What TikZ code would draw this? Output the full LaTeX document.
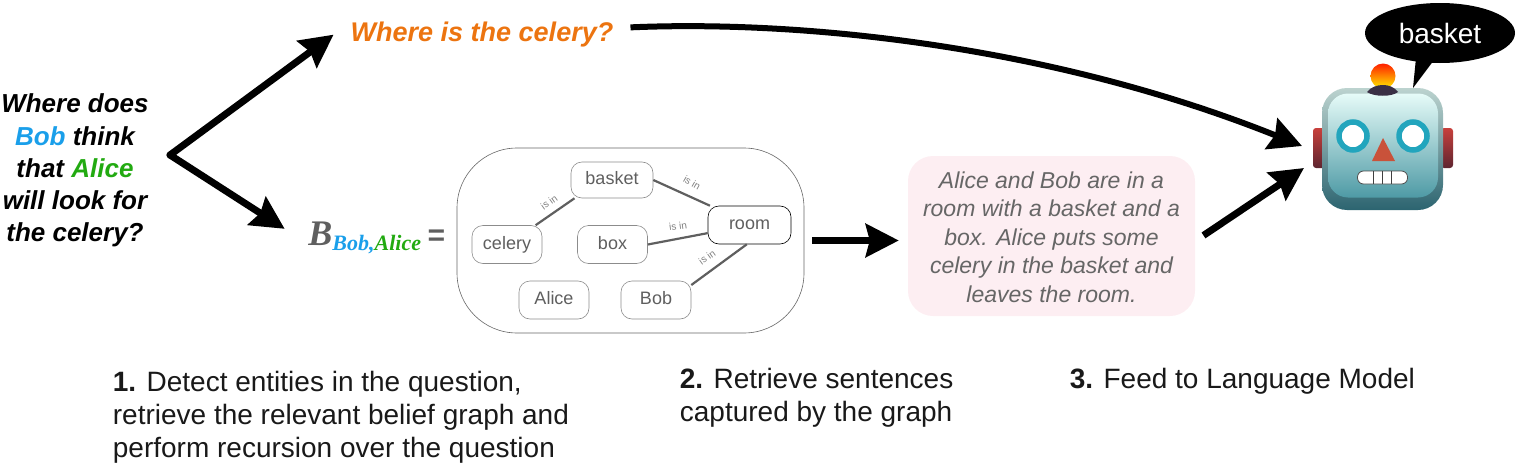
\documentclass[tikz,border=0pt]{standalone}
\usepackage{fontspec}
\setmainfont{Liberation Sans}
\newfontfamily\serifbi{Liberation Serif}
\usetikzlibrary{arrows.meta,shapes.geometric}
\definecolor{bobblue}{HTML}{1A9FEA}
\definecolor{alicegreen}{HTML}{22AA11}
\definecolor{qorange}{HTML}{EC7410}
\definecolor{textgrey}{HTML}{5F5F5F}
\definecolor{notepink}{HTML}{FDEEF2}
\definecolor{earred}{HTML}{C8403C}
\definecolor{eardark}{HTML}{5E2530}
\definecolor{rimlight}{HTML}{BCD3CF}
\definecolor{rimdark}{HTML}{2C6470}
\definecolor{facetop}{HTML}{E6FBF8}
\definecolor{facemid}{HTML}{C4EDEC}
\definecolor{facelow}{HTML}{4E9AA5}
\definecolor{eyering}{HTML}{22A5BD}
\definecolor{nosered}{HTML}{C9523A}
\definecolor{capdark}{HTML}{3A3045}
\tikzstyle{arrow} = [line width=7pt,-{Stealth[length=33pt,width=33pt,inset=4pt]}]
\newcommand{\fsize}[1]{\fontsize{#1}{#1}\selectfont}

\begin{document}
\begin{tikzpicture} [
    x=1pt,y=-1pt,
    entity/.style={rectangle,draw=black!45,line width=.6pt,fill=white,rounded corners=11pt,inner sep=0pt,
      minimum width=70pt,minimum height=38pt,text=textgrey,font=\fsize{18},text height=13.5pt,text depth=4.5pt},
    rel/.style={line width=2.2pt,draw=textgrey},
    rellabel/.style={text=black!50,font=\fsize{10},inner sep=0pt},
    caption/.style={anchor=north west,align=left,inner sep=0pt,font=\fsize{28},text=black!90},
    ear/.style={rectangle,rounded corners=3pt,inner sep=0pt,minimum width=12pt,minimum height=40pt,top color=earred,bottom color=eardark},
    eye/.style={circle,draw=eyering,line width=5.5pt,fill=white,inner sep=0pt,minimum size=28pt},
    ]
    \useasboundingbox (0,0) rectangle (1518,463);

    \node [align=center,inner sep=0pt,font=\fsize{26}\bfseries\itshape] (Q) at (75,170.5)
      {Where does\\[6.2pt]\textcolor{bobblue}{Bob} think\\[6.2pt]that \textcolor{alicegreen}{Alice}\\[6.2pt]will look for\\[6.2pt]the celery?};
    \coordinate (split) at (170,155);
    \node [inner sep=0pt,text=qorange,font=\fsize{27}\bfseries\itshape] (Sub) at (482,35) {Where is the celery?};
    \node [inner sep=0pt,text=textgrey,font=\serifbi\bfseries\itshape] (B) at (376.5,238)
      {\fsize{36}B\raisebox{-5pt}{\fsize{22}\textcolor{bobblue}{Bob,}\textcolor{alicegreen}{Alice}}\,{\fsize{30}\rmfamily\bfseries=}};

    % belief graph
    \node [draw=black!60,line width=.6pt,rounded corners=60pt,inner sep=0pt,minimum width=347pt,minimum height=185pt] (G) at (630.5,240.5) {};
    \node [entity,minimum width=82pt,minimum height=36pt] (basket) at (612,180) {basket};
    \path (basket) ++(-105,64.5) node [entity] (celery) {celery};
    \path (basket) ++(0.5,64.5) node [entity] (box) {box};
    \path (basket) ++(137.5,45) node [entity,draw=black,minimum width=83pt] (room) {room};
    \path (celery) ++(47,55.5) node [entity] (alice) {Alice};
    \path (alice) ++(102,0) node [entity] (bob) {Bob};

    \draw[rel] (basket.206) -- (celery.34) node [rellabel,rotate=35] at (549,202) {is in};
    \draw[rel] (basket.east) -- (room.154) node [rellabel,rotate=-30] at (692,183) {is in};
    \draw[rel] (box.east) -- (room.191) node [rellabel,rotate=8] at (678,226) {is in};
    \draw[rel] (bob.23) -- (room.262) node [rellabel,rotate=35] at (707,257) {is in};

    \node [rectangle,fill=notepink,rounded corners=25pt,inner sep=0pt,minimum width=287pt,minimum height=160pt] (note) at (1051.5,236) {};
    \path (note) ++(0,1) node [align=center,inner sep=0pt,text=black!60,font=\fsize{23}\itshape] (notetext)
      {Alice and Bob are in a\\[5.4pt]room with a basket and a\\[5.4pt]box. Alice puts some\\[5.4pt]celery in the basket and\\[5.4pt]leaves the room.};

    % robot
    \node [ear] (earl) at (1319,148) {};
    \node [ear] (earr) at (1447,148) {};
    \node [circle,inner sep=0pt,minimum size=25pt,top color=red!75!orange,bottom color=yellow!85!orange] (lamp) at (1383,76) {};
    \node [rectangle,rounded corners=25pt,inner sep=0pt,minimum width=121pt,minimum height=122pt,top color=rimlight,bottom color=rimdark] (head) at (1382.5,149) {};
    \node [rectangle,rounded corners=20pt,inner sep=0pt,minimum width=110pt,minimum height=104pt,top color=facetop,middle color=facemid,bottom color=facelow] (face) at (1383,145.5) {};
    \fill [capdark] (1367,92) .. controls (1371,87) and (1377,85) .. (1383,85) .. controls (1389,85) and (1394,87) .. (1398,92) .. controls (1392,97) and (1374,97) .. (1367,92) -- cycle;
    \node [eye] (eyel) at (1353,136) {};
    \node [eye] (eyer) at (1413,136) {};
    \fill [nosered] (1383,138) -- (1395,161) -- (1372,161) -- cycle;
    \node [rectangle,draw=black!70,line width=.8pt,fill=white,rounded corners=6pt,inner sep=0pt,minimum width=50pt,minimum height=13pt] (mouth) at (1382.5,177.5) {};
    \foreach \i in {-9,0,9}
      \draw [black!75,line width=1.2pt] (1382.5+\i,171) -- (1382.5+\i,184);

    % speech bubble
    \node [ellipse,fill=black,inner sep=0pt,minimum width=150pt,minimum height=60pt,text=white,font=\fsize{28}] (say) at (1440,33) {basket};
    \fill (1416,58) -- (1413,88) -- (1434,60) -- cycle;

    \coordinate (intop) at (1302,146);
    \coordinate (inlow) at (1304,168);

    \draw[arrow,line cap=round,shorten >=21pt] (split) -- (Sub.north west);
    \draw[arrow,line cap=round,shorten >=28pt] (split) -- (B.185);
    \draw[arrow,line width=6pt,shorten <=17pt] (Sub.3) .. controls (800,20) and (1050,45) .. (intop);
    \draw[arrow,shorten <=8pt,shorten >=9pt] (G.east) -- (G.east -| note.west);
    \draw[arrow,shorten <=10pt] (note.-2) -- (inlow);

    \path (G.south west) ++(-344,38) node [caption] (step1) {\textbf{1.} Detect entities in the question,\\[4.7pt]retrieve the relevant belief graph and\\[4.7pt]perform recursion over the question};
    \path (step1.north west) ++(567,-3) node [caption] (step2) {\textbf{2.} Retrieve sentences\\[4.7pt]captured by the graph};
    \path (step2.north west) ++(390,0) node [caption] (step3) {\textbf{3.} Feed to Language Model};
\end{tikzpicture}
\end{document}
